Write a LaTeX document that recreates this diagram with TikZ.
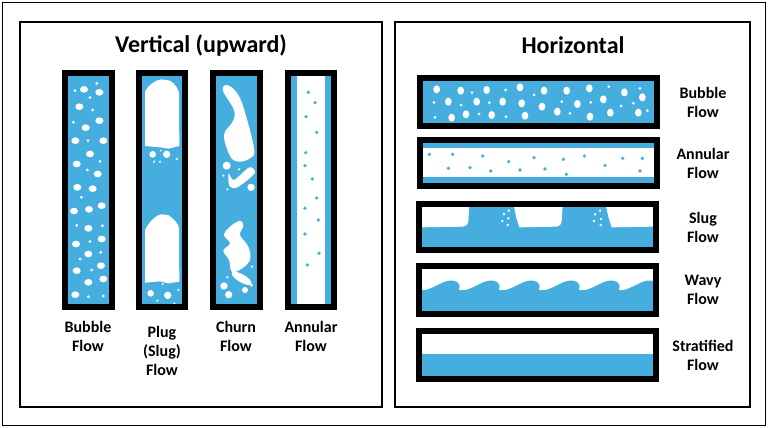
\documentclass[tikz,border=0pt]{standalone}
\usepackage{fontspec}
\setmainfont{Carlito}
\definecolor{flowblue}{HTML}{45AEDF}
\tikzset{
  panel/.style={draw=black, line width=1.2pt},
  tube/.style={draw=black, line width=6pt},
  water/.style={fill=flowblue},
  gas/.style={fill=white},
  title/.style={font=\fontsize{24}{26}\selectfont\bfseries},
  caption/.style={font=\fontsize{16}{19}\selectfont\bfseries, align=center},
}
\begin{document}
\begin{tikzpicture}[x=1pt, y=-1pt]
\useasboundingbox (0,0) rectangle (768,428);
% frames
\draw[line width=0.8pt] (2,2) rectangle (765,425);
\draw[panel] (20,22) rectangle (382,407);
\draw[panel] (395,22) rectangle (750,407);
\node[title] (vtitle) at (201,45) {Vertical (upward)};
\node[title] (htitle) at (573,45) {Horizontal};

% vertical bubble flow
\fill[water] (65,73) rectangle (112,307);
\begin{scope}[xshift=50pt, yshift=-60pt, scale=1/3]
  \foreach \x/\y in {102/88,148/97,88/140,148/182,107/203,76/242,160/242,120/282,80/312,143/342,82/382,128/386,155/437,72/453,117/448,115/505,78/552,155/537,115/582,80/632,153/617,115/667,160/657,76/704}
    \fill[gas] (\x,\y) ellipse [x radius=12, y radius=10];
  \foreach \x/\y in {75/92,140/70,120/113,128/150,70/187,114/242,150/304,112/330,94/412,80/496,157/497,120/545,152/577,90/597,125/630,115/710,160/708}
    \fill[gas] (\x,\y) circle [radius=4.5];
\end{scope}
\draw[tube] (65,73) rectangle (112,307);

% vertical plug flow
\fill[water] (139,73) rectangle (185,307);
\begin{scope}[xshift=50pt, yshift=-60pt, scale=1/3]
  \fill[gas] (285,95) .. controls (295,75) and (315,60) .. (335,58) -- (360,62)
    .. controls (375,72) and (385,85) .. (387,100) -- (388,258) -- (355,266)
    -- (330,262) -- (285,258) -- cycle;
  \fill[gas] (285,510) .. controls (295,490) and (315,465) .. (335,463) -- (355,465)
    .. controls (372,478) and (385,490) .. (387,505) -- (388,665) -- (355,670)
    -- (330,664) -- (285,668) -- cycle;
  \foreach \x/\y/\r in {308/283/10,350/283/11,332/272/3,312/305/3.5,330/305/3.5,380/297/4,302/700/10,353/706/11,338/672/3.5,322/722/3.5,373/730/3.5,385/690/3.5}
    \fill[gas] (\x,\y) circle [radius=\r];
\end{scope}
\draw[tube] (139,73) rectangle (185,307);

% vertical churn flow
\fill[water] (213,73) rectangle (260,307);
\begin{scope}[xshift=50pt, yshift=-60pt, scale=1/3]
  \fill[gas] plot[smooth cycle, tension=0.6] coordinates {(525,75) (552,88) (578,135) (612,265) (600,295) (565,305) (540,288) (522,225) (548,185) (552,150) (520,95)};
  \fill[gas] plot[smooth cycle, tension=0.6] coordinates {(522,525) (540,500) (570,482) (580,498) (570,525) (595,560) (600,600) (572,628) (545,635) (537,600) (520,572) (540,550)};
  \fill[gas] plot[smooth cycle, tension=0.5] coordinates {(536,340) (552,360) (598,322) (614,340) (562,382) (538,378)};
  \fill[gas] (575,655) ellipse [x radius=34, y radius=12, rotate=-30];
  \foreach \x/\y/\r in {530/317/12,567/328/3.5,520/347/3.5,603/382/11,532/388/3.5,522/678/11,536/704/11,585/690/9,604/676/4.5,532/652/3.5,606/620/3.5}
    \fill[gas] (\x,\y) circle [radius=\r];
\end{scope}
\draw[tube] (213,73) rectangle (260,307);

% vertical annular flow
\fill[water] (288,73) rectangle (334,307);
\fill[gas] (297,76) rectangle (325,304);
\begin{scope}[xshift=50pt, yshift=-60pt, scale=1/3]
  \foreach \x/\y in {775/97,795/128,768/170,800/217,767/278,765/317,787/357,800/414,765/445,805/480,765/522,807/580,772/615}
    \fill[water] (\x,\y) circle [radius=5.5];
\end{scope}
\draw[tube] (288,73) rectangle (334,307);

\node[caption] (cbubble) at (88,336) {Bubble\\Flow};
\node[caption] (cplug) at (162,351) {Plug\\(Slug)\\Flow};
\node[caption] (cchurn) at (236,336) {Churn\\Flow};
\node[caption] (cannular) at (311,336) {Annular\\Flow};

% horizontal bubble flow
\fill[water] (420,78) rectangle (657,126);
\begin{scope}[xshift=410pt, yshift=-70pt, scale=1/3]
  \foreach \x/\y in {80/58,152/62,230/60,330/52,402/62,470/62,538/55,643/67,697/82,115/95,200/95,278/95,335/100,396/110,502/102,580/88,125/143,168/133,245/135,345/137,442/125,540/140,601/128,685/128}
    \fill[gas] (\x,\y) ellipse [x radius=10, y radius=12];
  \foreach \x/\y in {186/68,287/60,372/75,596/50,690/55,72/97,153/105,238/98,455/95,542/97,633/108,670/100,75/142,207/132,288/140,480/130,712/122}
    \fill[gas] (\x,\y) circle [radius=4.5];
\end{scope}
\draw[tube] (420,78) rectangle (657,126);

% horizontal annular flow
\fill[water] (420,140) rectangle (657,186);
\fill[gas] (420,148) rectangle (657,177);
\begin{scope}[xshift=410pt, yshift=-70pt, scale=1/3]
  \foreach \x/\y in {58/253,128/253,218/258,296/275,372/263,460/268,523/258,638/265,697/265,115/295,180/293,242/303,330/300,405/297,469/313,585/286,690/303}
    \fill[water] (\x,\y) circle [radius=5.5];
\end{scope}
\draw[tube] (420,140) rectangle (657,186);

% horizontal slug flow
\fill[water] (419,204) rectangle (656,250);
\begin{scope}[xshift=410pt, yshift=-70pt, scale=1/3]
  \fill[gas] (35,408) -- (178,408) -- (175,455) .. controls (172,465) .. (160,470) -- (35,472) -- cycle;
  \fill[gas] (312,408) -- (458,408) -- (455,455) .. controls (452,465) .. (440,470) -- (328,472) -- (318,440) -- cycle;
  \fill[gas] (588,408) -- (732,408) -- (732,470) -- (605,472) -- (595,440) -- cycle;
  \foreach \x/\y in {296/422,282/432,295/445,277/453,293/465,570/422,555/433,573/447,552/453,572/465}
    \fill[gas] (\x,\y) circle [radius=4];
\end{scope}
\draw[tube] (419,204) rectangle (656,250);

% horizontal wavy flow
\fill[gas] (419,266) rectangle (656,314);
\begin{scope}[xshift=410pt, yshift=-70pt, scale=1/3]
  \fill[water] (35,660) rectangle (732,725);
  \foreach \s in {45,165,285,405,525,640}
    \fill[water] (\s,661) .. controls (\s+40,648) and (\s+60,628) .. (\s+85,632)
      .. controls (\s+100,634) and (\s+110,648) .. (\s+100,661) -- cycle;
\end{scope}
\draw[tube] (419,266) rectangle (656,314);

% horizontal stratified flow
\fill[gas] (419,331) rectangle (656,379);
\fill[water] (419,354) rectangle (656,379);
\draw[tube] (419,331) rectangle (656,379);

\node[caption] (hbubble) at (703,102) {Bubble\\Flow};
\node[caption] (hannular) at (703,163) {Annular\\Flow};
\node[caption] (hslug) at (703,227) {Slug\\Flow};
\node[caption] (hwavy) at (703,290) {Wavy\\Flow};
\node[caption] (hstrat) at (703,355) {Stratified\\Flow};
\end{tikzpicture}
\end{document}
